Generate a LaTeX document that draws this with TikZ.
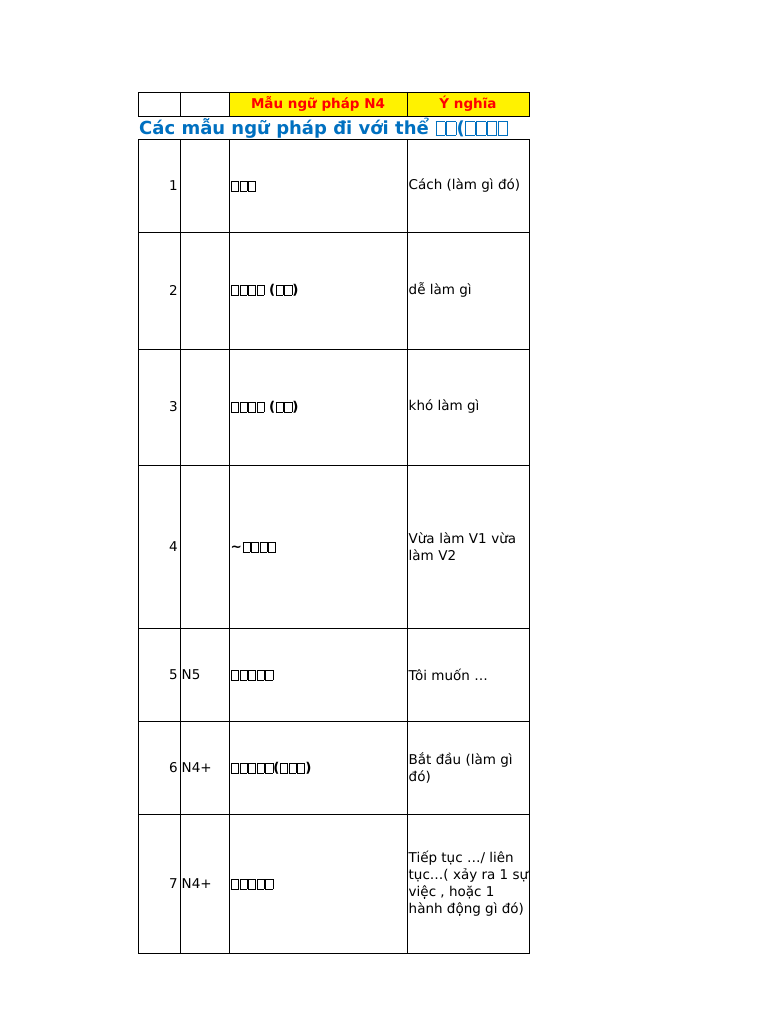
\documentclass[tikz,border=0pt]{standalone}
\usepackage{fontspec}
\setmainfont{DejaVu Sans}
\newcommand\tofu{\kern0.5pt{\fboxsep0pt\fboxrule0.4pt\fbox{\phantom{\rule[-0.05em]{0.5em}{0.74em}}}}\kern0.5pt}
\definecolor{ttl}{RGB}{0,112,192}
\begin{document}
\begin{tikzpicture}[x=1pt,y=-1pt,
  ln/.style={line width=0.7pt},
  num/.style={anchor=east,inner sep=1pt,font=\fontsize{13.5}{17}\selectfont},
  txt/.style={anchor=west,inner sep=1.5pt,font=\fontsize{13.5}{17}\selectfont,align=left},
  hd/.style={font=\fontsize{13.5}{16}\selectfont\bfseries,text=red}]
\useasboundingbox (0,0) rectangle (768,1024);
% header
\fill[yellow] (229,92) rectangle (529,116);
\draw[ln] (138,92) rectangle (529,116);
\foreach \x in {180,229,407} \draw[ln] (\x,92) -- (\x,116);
\node[hd] (h1) at (318,104) {Mẫu ngữ pháp N4};
\node[hd] (h2) at (468,104) {Ý nghĩa};
\node[anchor=west,inner sep=0pt,font=\fontsize{18}{20}\selectfont\bfseries,text=ttl] (t) at (139,128) {Các mẫu ngữ pháp đi với thể \tofu\tofu(\tofu\tofu\tofu\tofu};
% body grid
\draw[ln] (138,139) rectangle (529,953);
\foreach \x in {180,229,407} \draw[ln] (\x,139) -- (\x,953);
\foreach \y in {232,349,465,628,721,814} \draw[ln] (138,\y) -- (529,\y);
% rows
\node[num] (n1) at (179,186) {1};
\node[txt] (g1) at (229,186) {\tofu\tofu\tofu};
\node[txt] (m1) at (407,186) {Cách (làm gì đó)};
\node[num] (n2) at (179,290) {2};
\node[txt] (g2) at (229,290) {\tofu\tofu\tofu\tofu\ \textbf{(\tofu\tofu)}};
\node[txt] (m2) at (407,290) {dễ làm gì};
\node[num] (n3) at (179,407) {3};
\node[txt] (g3) at (229,407) {\tofu\tofu\tofu\tofu\ \textbf{(\tofu\tofu)}};
\node[txt] (m3) at (407,407) {khó làm gì};
\node[num] (n4) at (179,547) {4};
\node[txt] (g4) at (229,547) {\textbf{\textasciitilde}\tofu\tofu\tofu\tofu};
\node[txt,text width=118pt] (m4) at (407,547) {Vừa làm V1 vừa\\làm V2};
\node[num] (n5) at (179,675) {5};
\node[txt] (l5) at (180,675) {N5};
\node[txt] (g5) at (229,675) {\tofu\tofu\tofu\tofu\tofu};
\node[txt] (m5) at (407,675) {Tôi muốn …};
\node[num] (n6) at (179,768) {6};
\node[txt] (l6) at (180,768) {N4+};
\node[txt] (g6) at (229,768) {\tofu\tofu\tofu\tofu\tofu\textbf{(\tofu\tofu\tofu)}};
\node[txt] (m6) at (407,768) {Bắt đầu (làm gì\\đó)};
\node[num] (n7) at (179,884) {7};
\node[txt] (l7) at (180,884) {N4+};
\node[txt] (g7) at (229,884) {\tofu\tofu\tofu\tofu\tofu};
\node[txt] (m7) at (407,884) {Tiếp tục …/ liên\\tục…( xảy ra 1 sự\\việc , hoặc 1\\hành động gì đó)};
\end{tikzpicture}
\end{document}
